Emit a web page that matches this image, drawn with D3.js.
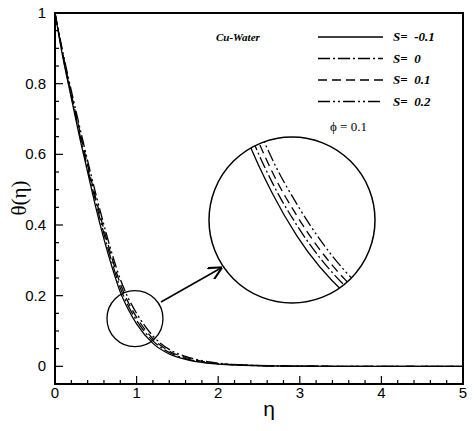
<!DOCTYPE html>
<html><head><meta charset="utf-8">
<script src="https://d3js.org/d3.v7.min.js"></script>
<style>body{margin:0;background:#fff}</style>
</head><body>
<div id="chart"></div>
<script>
// eta grid and theta profiles
var eta = [0,0.1,0.2,0.3,0.4,0.5,0.6,0.7,0.8,0.9,1.0,1.2,1.4,1.6,1.8,2.0,2.3,2.6,3,3.5,4,5];
var sM01 = [1,0.87,0.76,0.65,0.55,0.45,0.36,0.28,0.21,0.16,0.12,0.065,0.035,0.02,0.011,0.006,0.003,0.0012,0.0004,0.0001,0,0];
var s0   = [1,0.875,0.765,0.66,0.56,0.465,0.375,0.293,0.222,0.17,0.13,0.072,0.039,0.022,0.012,0.007,0.0033,0.0013,0.0004,0.0001,0,0];
var s01  = [1,0.88,0.77,0.67,0.57,0.475,0.387,0.305,0.234,0.18,0.139,0.078,0.043,0.025,0.014,0.0078,0.0036,0.0014,0.0005,0.0001,0,0];
var s02  = [1,0.885,0.78,0.68,0.582,0.488,0.4,0.318,0.247,0.192,0.15,0.086,0.048,0.028,0.016,0.0088,0.004,0.0016,0.0005,0.0001,0,0];
var labels = ["S=  -0.1","S=  0","S=  0.1","S=  0.2"];
var dashes = [null,"12,3,2,3","9,5","12,3,2,3,2,3"];
var xTicks = [0,1,2,3,4,5];
var yTicks = [0,0.2,0.4,0.6,0.8,1];

var series = [sM01,s0,s01,s02].map(function(v,i){
  return {label:labels[i], dash:dashes[i], pts:eta.map(function(e,j){return [e,v[j]];})};
});

var W=474,H=431;
var svg = d3.select("#chart").append("svg").attr("width",W).attr("height",H)
  .style("font-family","'Liberation Sans',Arial,sans-serif");

var x = d3.scaleLinear().domain([0,5]).range([55,463]);
var y = d3.scaleLinear().domain([-0.05,1]).range([384,13]);

// frame
svg.append("rect").attr("x",55).attr("y",13).attr("width",408).attr("height",371)
  .attr("fill","none").attr("stroke","#000").attr("stroke-width",2);

// ticks inside the frame
var tk = svg.append("g").attr("stroke","#000").attr("stroke-width",1.2);
d3.range(0,5.001,0.2).forEach(function(v){
  var major = Math.abs(v-Math.round(v))<1e-6;
  tk.append("line").attr("x1",x(v)).attr("x2",x(v)).attr("y1",384).attr("y2",384-(major?8:4));
});
d3.range(0,1.001,0.05).forEach(function(v){
  var major = Math.abs(v*5-Math.round(v*5))<1e-6;
  tk.append("line").attr("y1",y(v)).attr("y2",y(v)).attr("x1",55).attr("x2",55+(major?8:4));
});
svg.append("g").selectAll("text").data(xTicks).enter().append("text")
  .attr("x",function(d){return x(d);}).attr("y",398).attr("text-anchor","middle").attr("font-size",15).text(function(d){return d;});
svg.append("g").selectAll("text").data(yTicks).enter().append("text")
  .attr("x",46).attr("y",function(d){return y(d)+5;}).attr("text-anchor","end").attr("font-size",15)
  .text(function(d){return d===0||d===1?d:d3.format(".1f")(d);});

svg.append("text").attr("x",269).attr("y",416).attr("text-anchor","middle").attr("font-size",21).text("η");
svg.append("text").attr("transform","translate(26,198) rotate(-90)").attr("text-anchor","middle")
  .attr("font-size",21).attr("font-family","'Liberation Serif',serif").text("θ(η)");

var line = d3.line().curve(d3.curveMonotoneX).x(function(d){return x(d[0]);}).y(function(d){return y(d[1]);});
svg.append("g").selectAll("path").data(series).enter().append("path")
  .attr("d",function(d){return line(d.pts);}).attr("fill","none").attr("stroke","#000")
  .attr("stroke-width",1.3).attr("stroke-dasharray",function(d){return d.dash;});

// magnifier
var cx0=0.98, cy0=0.135, r0=28, mag=3, cx1=292, cy1=220, r1=83;
svg.append("circle").attr("cx",x(cx0)).attr("cy",y(cy0)).attr("r",r0).attr("fill","none").attr("stroke","#000").attr("stroke-width",1.3);
svg.append("defs").append("clipPath").attr("id","mag").append("circle").attr("cx",cx1).attr("cy",cy1).attr("r",r1);
svg.append("circle").attr("cx",cx1).attr("cy",cy1).attr("r",r1).attr("fill","#fff").attr("stroke","#000").attr("stroke-width",1.5);
var xm = d3.scaleLinear().domain([cx0,cx0+1]).range([cx1,cx1+(x(1)-x(0))*mag]);
var ym = d3.scaleLinear().domain([cy0,cy0+1]).range([cy1,cy1+(y(1)-y(0))*mag]);
var lineM = d3.line().curve(d3.curveMonotoneX).x(function(d){return xm(d[0]);}).y(function(d){return ym(d[1]);});
svg.append("g").attr("clip-path","url(#mag)").selectAll("path").data(series).enter().append("path")
  .attr("d",function(d){return lineM(d.pts);}).attr("fill","none").attr("stroke","#000")
  .attr("stroke-width",1.3).attr("stroke-dasharray",function(d){return d.dash;});

// arrow
svg.append("defs").append("marker").attr("id","ah").attr("viewBox","0 0 10 10").attr("refX",9).attr("refY",5)
  .attr("markerWidth",9).attr("markerHeight",9).attr("orient","auto")
  .append("path").attr("d","M0,0L10,5L0,10").attr("fill","none").attr("stroke","#000").attr("stroke-width",1.5);
svg.append("line").attr("x1",161).attr("y1",302).attr("x2",221).attr("y2",268)
  .attr("stroke","#000").attr("stroke-width",1.5).attr("marker-end","url(#ah)");

// legend
var lg = svg.append("g").attr("font-family","'Liberation Serif',serif").attr("font-weight","bold").attr("font-style","italic").attr("font-size",13);
lg.append("text").attr("x",216).attr("y",41).text("Cu-Water").attr("font-size",11);
series.forEach(function(s,i){
  var yy = 37 + i*21.5;
  lg.append("line").attr("x1",318).attr("x2",383).attr("y1",yy).attr("y2",yy).attr("stroke","#000")
    .attr("stroke-width",1.5).attr("stroke-dasharray",s.dash);
  lg.append("text").attr("x",393).attr("y",yy+4).attr("xml:space","preserve").style("white-space","pre").text(s.label);
});
svg.append("text").attr("x",330).attr("y",131).attr("font-family","'Liberation Serif',serif").attr("font-size",13).text("ϕ = 0.1");
</script>
</body></html>
